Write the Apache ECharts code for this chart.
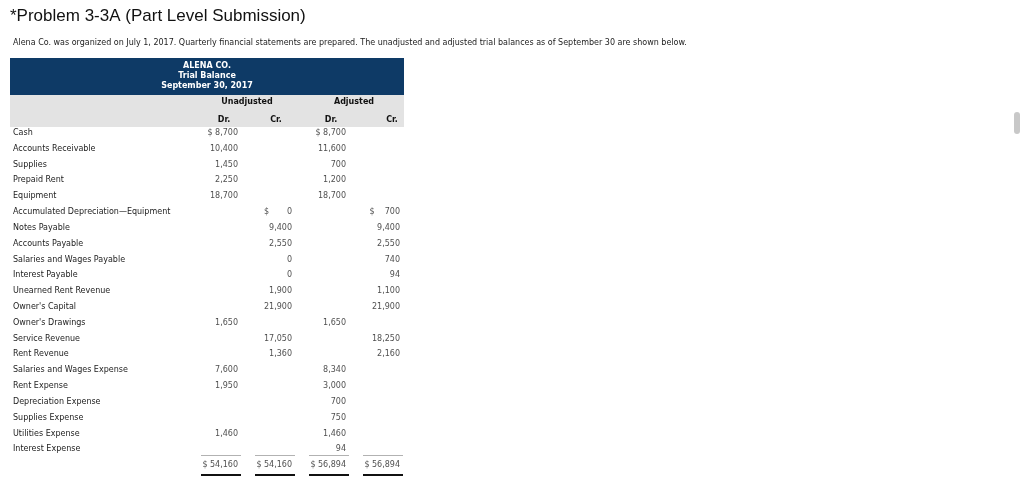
<!DOCTYPE html>
<html><head><meta charset="utf-8">
<script src="https://cdn.jsdelivr.net/npm/echarts@6/dist/echarts.min.js"></script>
<style>html,body{margin:0;padding:0;background:#fff}#c{width:1024px;height:484px}</style>
</head><body><div id="c"></div>
<script>
const accounts = ['Cash','Accounts Receivable','Supplies','Prepaid Rent','Equipment','Accumulated Depreciation—Equipment','Notes Payable','Accounts Payable','Salaries and Wages Payable','Interest Payable','Unearned Rent Revenue',"Owner's Capital","Owner's Drawings",'Service Revenue','Rent Revenue','Salaries and Wages Expense','Rent Expense','Depreciation Expense','Supplies Expense','Utilities Expense','Interest Expense','TOTAL'];
const columns = ['uDr','uCr','aDr','aCr'];
const unadjDr = [8700,10400,1450,2250,18700,null,null,null,null,null,null,null,1650,null,null,7600,1950,null,null,1460,null,54160];
const unadjCr = [null,null,null,null,null,0,9400,2550,0,0,1900,21900,null,17050,1360,null,null,null,null,null,null,54160];
const adjDr = [8700,11600,700,1200,18700,null,null,null,null,null,null,null,1650,null,null,8340,3000,700,750,1460,94,56894];
const adjCr = [null,null,null,null,null,700,9400,2550,740,94,1100,21900,null,18250,2160,null,null,null,null,null,null,56894];
const dollarRows = {uDr:[0,21], uCr:[5,21], aDr:[0,21], aCr:[5,21]};
const cols = {uDr:unadjDr,uCr:unadjCr,aDr:adjDr,aCr:adjCr};
const F = 'DejaVu Sans';
const fmt = v => v.toLocaleString('en-US');
const series = columns.map(c => ({
  type:'scatter', symbolSize:0, silent:true,
  data: cols[c].map((v,i)=> v==null?null:[c, accounts[i], v]).filter(Boolean),
  label:{show:true, position:'inside', offset:[25,0], align:'right', fontFamily:F, fontSize:8, color:'#222',
    formatter:p=>{
      const i = accounts.indexOf(p.value[1]);
      const s = fmt(p.value[2]);
      if (dollarRows[c].includes(i)) {
        if (i===21) return '$ '+s;
        if (i===0) return '$ '+s;
        return '$' + ' '.repeat(Math.max(1, 9 - s.length*1.4|0)) + s;
      }
      return s;
    }}
}));
const chart = echarts.init(document.getElementById('c'));
const hl = (x) => [
  {type:'rect', shape:{x:x-40,y:455,width:40,height:0.8}, style:{fill:'#999'}},
  {type:'rect', shape:{x:x-40,y:474,width:40,height:2}, style:{fill:'#111'}}];
chart.setOption({
  animation:false,
  grid:{left:186, width:216, top:125, height:348},
  xAxis:{type:'category', data:columns, show:false},
  yAxis:{type:'category', data:accounts, inverse:true, axisLine:{show:false}, axisTick:{show:false}, splitLine:{show:false},
    axisLabel:{align:'left', margin:173, fontFamily:F, fontSize:8, color:'#222', formatter:v=>v==='TOTAL'?'':v}},
  graphic:[
    {type:'text', left:10, top:8, style:{text:'*Problem 3-3A (Part Level Submission)', font:'17px "Liberation Sans"', fill:'#111'}},
    {type:'text', left:13, top:39, style:{text:'Alena Co. was organized on July 1, 2017. Quarterly financial statements are prepared. The unadjusted and adjusted trial balances as of September 30 are shown below.', font:'8px "DejaVu Sans"', fill:'#222'}},
    {type:'rect', shape:{x:10,y:58,width:394,height:37}, style:{fill:'#0e3a66'}},
    {type:'rect', shape:{x:10,y:95,width:394,height:32}, style:{fill:'#e3e3e3'}},
    {type:'text', x:207, y:61, style:{text:'ALENA CO.\nTrial Balance\nSeptember 30, 2017', align:'center', font:'bold 8px "DejaVu Sans"', lineHeight:10, fill:'#fff'}},
    {type:'text', x:247, y:98, style:{text:'Unadjusted', align:'center', font:'bold 8px "DejaVu Sans"', fill:'#111'}},
    {type:'text', x:354, y:98, style:{text:'Adjusted', align:'center', font:'bold 8px "DejaVu Sans"', fill:'#111'}},
    {type:'text', x:224, y:116, style:{text:'Dr.', align:'center', font:'bold 8px "DejaVu Sans"', fill:'#111'}},
    {type:'text', x:276, y:116, style:{text:'Cr.', align:'center', font:'bold 8px "DejaVu Sans"', fill:'#111'}},
    {type:'text', x:331, y:116, style:{text:'Dr.', align:'center', font:'bold 8px "DejaVu Sans"', fill:'#111'}},
    {type:'text', x:392, y:116, style:{text:'Cr.', align:'center', font:'bold 8px "DejaVu Sans"', fill:'#111'}},
    ...hl(241), ...hl(295), ...hl(349), ...hl(403),
    {type:'rect', shape:{x:1014,y:112,width:6,height:22,r:3}, style:{fill:'#c8c8c8'}}
  ],
  series
});
</script></body></html>
